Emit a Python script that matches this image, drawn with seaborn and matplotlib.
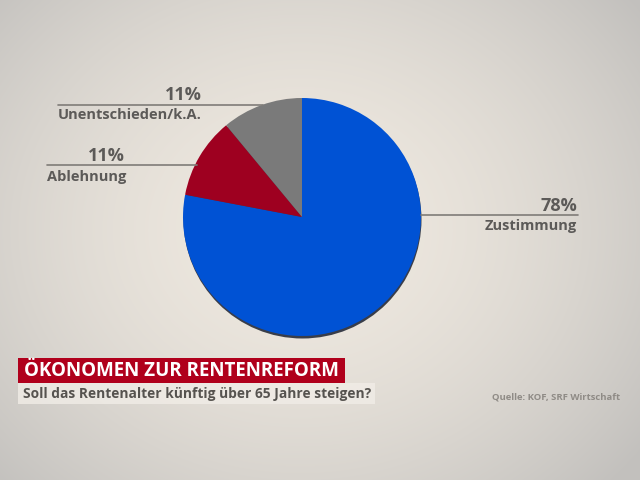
import numpy as np
import matplotlib
matplotlib.use("Agg")
import matplotlib.pyplot as plt
import seaborn as sns
from matplotlib.patches import Circle, Rectangle

sns.set_theme(style="white")
plt.rcParams['font.family'] = ['Open Sans', 'DejaVu Sans']

# ---- data ----
categories = ["Zustimmung", "Ablehnung", "Unentschieden/k.A."]
values = [78, 11, 11]
pct_labels = ["78%", "11%", "11%"]
colors = ["#0052d4", "#9e0020", "#7a7a7a"]
title = "ÖKONOMEN ZUR RENTENREFORM"
subtitle = "Soll das Rentenalter künftig über 65 Jahre steigen?"
source = "Quelle: KOF, SRF Wirtschaft"

W, H = 640, 480
fig = plt.figure(figsize=(6.4, 4.8), dpi=100)
ax = fig.add_axes([0, 0, 1, 1])

# background radial gradient
yy, xx = np.mgrid[0:H, 0:W]
d = np.sqrt(((xx - 300) / 430.0) ** 2 + ((yy - 230) / 370.0) ** 2)
d = np.clip(d, 0, 1)
c0 = np.array([0xef, 0xe9, 0xe0]) / 255.0
c1 = np.array([0xc2, 0xc0, 0xbd]) / 255.0
img = c0[None, None, :] * (1 - d[..., None] ** 1.7) + c1[None, None, :] * (d[..., None] ** 1.7)
ax.imshow(img, extent=[0, W, 0, H], origin="upper", zorder=0, aspect="auto")

cx, cy, r = 302, H - 217, 119
# shadow
ax.add_patch(Circle((cx + 0.5, cy - 2.5), r, color="#1a2030", alpha=0.85, zorder=1, lw=0))
ax.pie(values, colors=colors, startangle=90, counterclock=False,
       center=(cx, cy), radius=r, frame=True,
       wedgeprops=dict(linewidth=0, zorder=2))

txt = "#5c5a58"
line_c = "#7f7c78"
pct_fs = 13
lab_fs = 10.5
# Zustimmung
ax.plot([421, 578], [H - 215, H - 215], color=line_c, lw=1.2, zorder=3)
ax.text(577, H - 206, pct_labels[0], ha="right", va="center", fontsize=pct_fs, fontweight="bold", color=txt)
ax.text(577, H - 226, categories[0], ha="right", va="center", fontsize=lab_fs, fontweight="bold", color=txt)
# Ablehnung
ax.plot([47, 197], [H - 165, H - 165], color=line_c, lw=1.2, zorder=3)
ax.text(125, H - 156, pct_labels[1], ha="right", va="center", fontsize=pct_fs, fontweight="bold", color=txt)
ax.text(47, H - 177, categories[1], ha="left", va="center", fontsize=lab_fs, fontweight="bold", color=txt)
# Unentschieden
ax.plot([58, 263], [H - 105, H - 105], color=line_c, lw=1.2, zorder=3)
ax.text(202, H - 95, pct_labels[2], ha="right", va="center", fontsize=pct_fs, fontweight="bold", color=txt)
ax.text(58, H - 115, categories[2], ha="left", va="center", fontsize=lab_fs, fontweight="bold", color=txt)

# title boxes
ax.add_patch(Rectangle((18, H - 383), 327, 25, color="#b0001c", zorder=3, lw=0))
ax.text(24, H - 370.5, title, ha="left", va="center", fontsize=13.5, fontweight="bold", color="white", zorder=4)
ax.add_patch(Rectangle((18, H - 404), 357, 21, color="#f1ede7", alpha=0.8, zorder=3, lw=0))
ax.text(23, H - 394, subtitle, ha="left", va="center", fontsize=9.9, fontweight="bold", color="#56534f", zorder=4)
ax.text(620, H - 397, source, ha="right", va="center", fontsize=6.8, fontweight="bold", color="#8f8b86", zorder=4)

ax.set_xlim(0, W)
ax.set_ylim(0, H)
ax.set_aspect("auto")
ax.axis("off")
fig.savefig("out.png", dpi=100)
